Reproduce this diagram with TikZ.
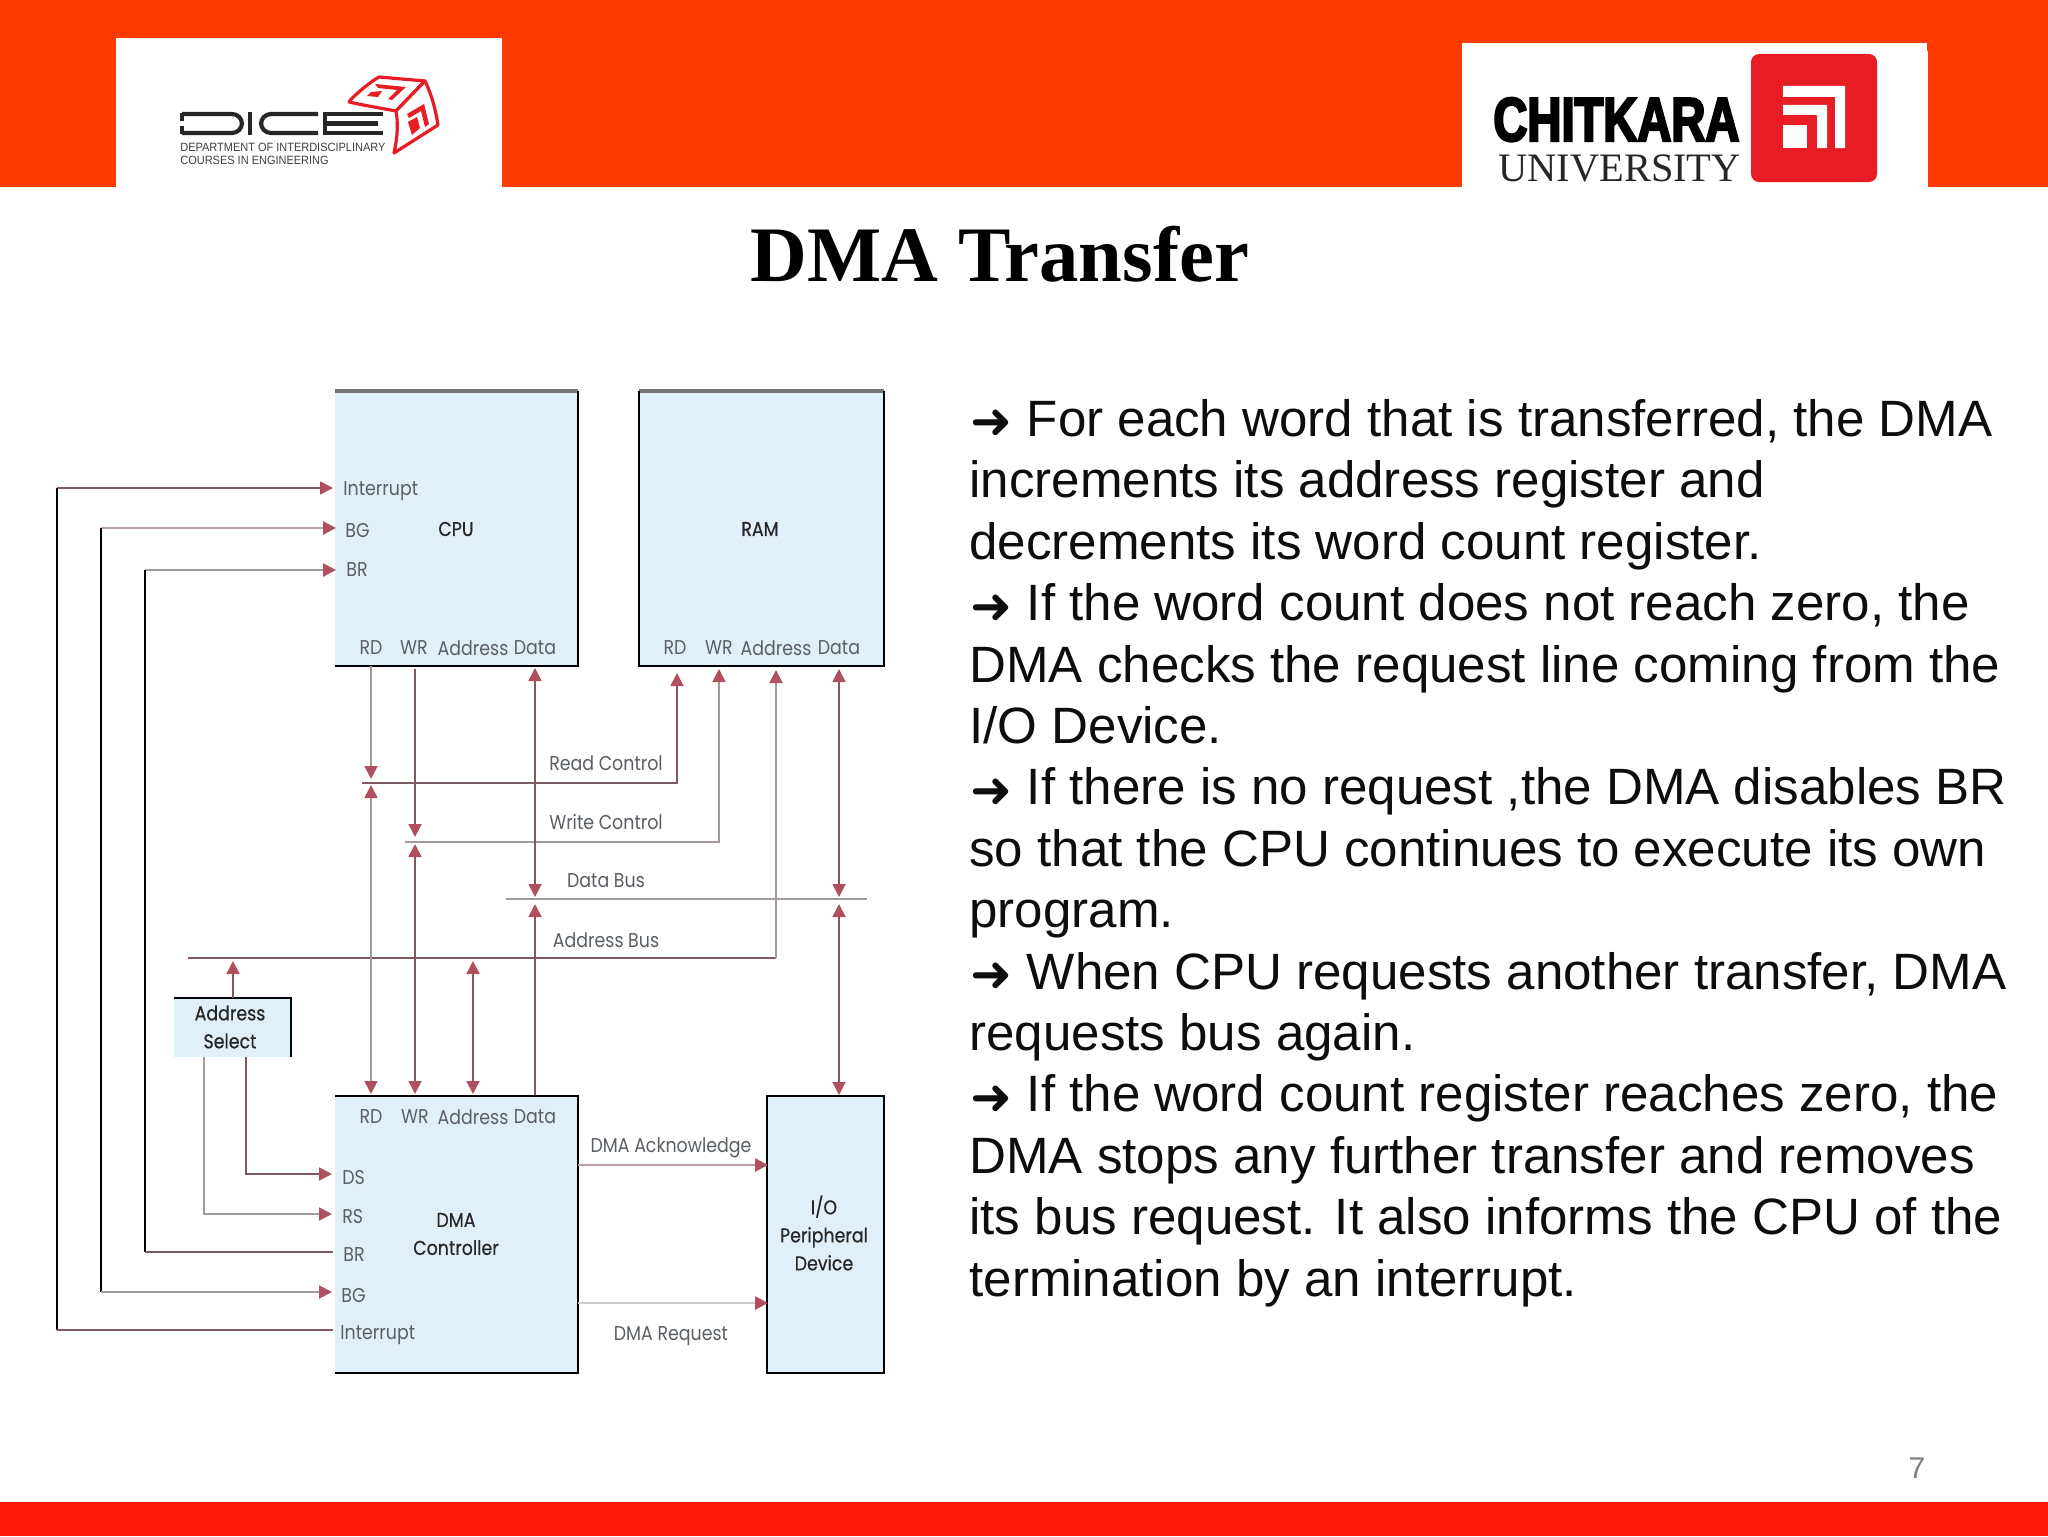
\documentclass[tikz,border=0pt]{standalone}
\usepackage{fontspec}
\setmainfont{Liberation Sans}
\newfontfamily\serifhead{Liberation Serif}
\newfontfamily\diafont[FakeStretch=0.87]{Poppins}
\newfontfamily\diatitlefont[FakeStretch=0.87,FakeBold=0.5]{Poppins}
\newfontfamily\symfont{DejaVu Sans}
\usetikzlibrary{arrows.meta}
\definecolor{banner}{HTML}{FF3A03}
\definecolor{footerred}{HTML}{FF1A0A}
\definecolor{logored}{HTML}{E81C25}
\definecolor{boxfill}{HTML}{E0F0FB}
\definecolor{wire}{HTML}{7F5A60}
\definecolor{greywire}{HTML}{A39A9C}
\definecolor{pinkwire}{HTML}{B9A2A5}
\definecolor{tipc}{HTML}{B0505F}
\definecolor{lab}{HTML}{5A5F64}
\newcommand{\bulletarrow}{\makebox[28.7pt][l]{\hspace{0.4pt}\raisebox{-1.2pt}{\symfont\fontsize{25}{30.7}\selectfont ➜}}}
\tikzset{
 x=0.5pt,y=-0.5pt,
 panel/.style={fill=boxfill,draw=none},
 edge/.style={draw=black,line width=1.2pt},
 wireline/.style={draw=wire,line width=0.9pt},
 greyline/.style={draw=greywire,line width=0.9pt},
 pinkline/.style={draw=pinkwire,line width=1.3pt},
 blackline/.style={draw=black,line width=0.9pt},
 headtip/.style={-{Triangle[length=6.5pt,width=6.5pt,color=tipc]}},
 bothtip/.style={{Triangle[length=6.5pt,width=6.5pt,color=tipc]}-{Triangle[length=6.5pt,width=6.5pt,color=tipc]}},
 dlabel/.style={inner sep=0pt,text=lab,font=\diafont\fontsize{10}{12}\selectfont},
 dtitle/.style={inner sep=0pt,text=black!85,align=center,font=\diatitlefont\fontsize{10}{14}\selectfont},
 cubeline/.style={draw=logored,line width=1.6pt,line join=round},
 dice/.style={draw=black!85,line width=2.1pt}
}
\begin{document}
\begin{tikzpicture}
\useasboundingbox (0,0) rectangle (2048,1536);
\fill[white] (0,0) rectangle (2048,1536);
% banner and footer
\fill[banner] (0,0) rectangle (2048,187);
\fill[footerred] (0,1502) rectangle (2048,1536);
\fill[white] (116,38) rectangle (502,187);
\fill[white] (1462,43) rectangle (1927,187);
\fill[white] (1927,51) rectangle (1928,187);
% DICE logo
\draw[dice,rounded corners=5pt] (182,114) -- (242,114) -- (242,133) -- (182,133);
\draw[dice] (182,113) -- (182,121) (182,126) -- (182,134);
\draw[dice] (250,112) -- (250,135);
\draw[dice,rounded corners=5pt] (318,114) -- (261,114) -- (261,133) -- (318,133);
\draw[dice] (383,114) -- (325,114) -- (325,133) -- (383,133) (325,123.5) -- (378,123.5);
\node[anchor=base west,inner sep=0pt,text=black!75] (dicea) at (180,151)
 {\addfontfeature{FakeStretch=0.915}\fontsize{6}{7}\selectfont DEPARTMENT OF INTERDISCIPLINARY};
\node[anchor=base west,inner sep=0pt,text=black!75] (diceb) at (180,164.5)
 {\addfontfeature{FakeStretch=0.915}\fontsize{6}{7}\selectfont COURSES IN ENGINEERING};
\draw[cubeline,fill=white] (349,102) .. controls (352,97) and (370,82) .. (379,77) -- (425,81) -- (396,111) .. controls (380,108) and (362,105) .. (349,102) -- cycle;
\draw[cubeline,fill=white] (396,111) -- (425,81) .. controls (432,95) and (436,112) .. (438,125) -- (394,153) .. controls (398,135) and (398,122) .. (396,111) -- cycle;
\fill[logored] (375,84) -- (406,87) -- (392,100) -- (388,99) -- (397,90) -- (378,88) -- cycle;
\fill[logored] (371,92) -- (382,91) -- (378,97) -- (367,96) -- cycle;
\fill[logored] (407,114) -- (424,104) -- (429,124) -- (425,127) -- (421,111) -- (409,118) -- cycle;
\fill[logored] (408,122) -- (417,117) -- (420,128) -- (412,135) -- cycle;
% Chitkara logo
\node[inner sep=0pt,anchor=base west,text depth=0pt] (chitkara) at (1493,141)
 {\special{pdf:literal direct 2 Tr 1.1 w}\fontsize{31}{33}\selectfont\bfseries\addfontfeature{FakeStretch=0.76}CHITKARA\special{pdf:literal direct 0 Tr}};
\node[inner sep=0pt,anchor=base west,text=black!85] (univ) at (1498,181)
 {\serifhead\fontsize{20.2}{24}\selectfont UNIVERSITY};
\fill[logored,rounded corners=4pt] (1751,54) rectangle (1877,182);
\fill[white] (1783,86) -- (1845,86) -- (1845,148) -- (1835,148) -- (1835,97) -- (1783,97) -- cycle;
\fill[white] (1783,105) -- (1827,105) -- (1827,148) -- (1817,148) -- (1817,115) -- (1783,115) -- cycle;
\fill[white] (1783,125) rectangle (1807,148);
% title
\node[inner sep=0pt,anchor=base] (title) at (1000,281)
 {\serifhead\bfseries\fontsize{39.3}{46}\selectfont DMA Transfer};
% boxes
\fill[panel] (335,390) rectangle (578,666);
\draw[draw=black!55,line width=2pt] (335,391) -- (578,391);
\draw[edge] (335,666) -- (578,666) -- (578,391);
\fill[panel] (639,390) rectangle (884,666);
\draw[draw=black!55,line width=2pt] (639,391) -- (884,391);
\draw[edge] (639,391) -- (639,666) -- (884,666) -- (884,391);
\fill[panel] (335,1096) rectangle (578,1373);
\draw[edge] (335,1096) -- (578,1096) -- (578,1373) -- (335,1373);
\fill[panel] (767,1096) rectangle (884,1373);
\draw[edge] (767,1373) -- (767,1096) -- (884,1096) -- (884,1373) -- cycle;
\fill[panel] (174,998) rectangle (291,1057);
\draw[edge] (174,998) -- (291,998) -- (291,1057);
% titles
\node[dtitle] (cpu) at (456,529) {CPU};
\node[dtitle] (ram) at (760,529) {RAM};
\node[dtitle] (dma) at (456,1234) {DMA\\Controller};
\node[dtitle] (io) at (824,1233) {I/O\\Peripheral\\Device};
\node[dtitle] (sel) at (230,1027) {Address\\Select};
% cpu labels
\node[dlabel,anchor=west] (c1) at (343,491) {Interrupt};
\node[dlabel,anchor=west] (c2) at (345,531) {BG};
\node[dlabel,anchor=west] (c3) at (346,570) {BR};
\node[dlabel] (c4) at (371,648) {RD};
\node[dlabel] (c5) at (414,648) {WR};
\node[dlabel] (c6) at (473,648) {Address};
\node[dlabel] (c7) at (535,648) {Data};
% ram labels
\node[dlabel] (r4) at (675,648) {RD};
\node[dlabel] (r5) at (719,648) {WR};
\node[dlabel] (r6) at (776,648) {Address};
\node[dlabel] (r7) at (839,648) {Data};
% dma labels
\node[dlabel] (d4) at (371,1117) {RD};
\node[dlabel] (d5) at (415,1117) {WR};
\node[dlabel] (d6) at (473,1117) {Address};
\node[dlabel] (d7) at (535,1117) {Data};
\node[dlabel,anchor=west] (d8) at (342,1177) {DS};
\node[dlabel,anchor=west] (d9) at (342,1216) {RS};
\node[dlabel,anchor=west] (d10) at (343,1255) {BR};
\node[dlabel,anchor=west] (d11) at (341,1295) {BG};
\node[dlabel,anchor=west] (d12) at (340,1335) {Interrupt};
% bus labels
\node[dlabel] (l1) at (606,763) {Read Control};
\node[dlabel] (l2) at (606,822) {Write Control};
\node[dlabel] (l3) at (606,881) {Data Bus};
\node[dlabel] (l4) at (606,940) {Address Bus};
\node[dlabel] (l5) at (671,1148) {DMA Acknowledge};
\node[dlabel] (l6) at (671,1336) {DMA Request};
% coordinates
\coordinate (intA) at (57,488); \coordinate (intB) at (57,1330);
\coordinate (bgA) at (101,528); \coordinate (bgB) at (101,1292);
\coordinate (brA) at (145,570); \coordinate (brB) at (145,1252);
% side wires
\draw[wireline,headtip] (intA) -- (333,488);
\draw[pinkline,headtip] (bgA) -- (336,528);
\draw[pinkline,draw=greywire,headtip] (brA) -- (336,570);
\draw[blackline] (intA) -- (intB);
\draw[blackline] (bgA) -- (bgB);
\draw[blackline] (brA) -- (brB);
\draw[wireline] (intB) -- (333,1330);
\draw[greyline,headtip] (bgB) -- (332,1292);
\draw[wireline] (brB) -- (333,1252);
\draw[wireline,headtip] (246,1057) -- (246,1174) -- (332,1174);
\draw[greyline,headtip] (204,1057) -- (204,1214) -- (332,1214);
% buses
\draw[wireline,headtip] (362,783) -- (677,783) -- (677,673);
\draw[greyline,headtip] (405,842) -- (719,842) -- (719,669);
\draw[greyline] (506,899) -- (867,899);
\draw[wireline] (188,958) -- (776,958);
\draw[greyline,headtip] (776,958) -- (776,670);
\draw[wireline,headtip] (233,998) -- (233,961);
% verticals
\draw[greyline,headtip] (371,666) -- (371,779);
\draw[greyline,bothtip] (371,785) -- (371,1094);
\draw[wireline,headtip] (415,669) -- (415,837);
\draw[wireline,bothtip] (415,844) -- (415,1094);
\draw[wireline,bothtip] (473,961) -- (473,1094);
\draw[wireline,bothtip] (535,668) -- (535,897);
\draw[wireline,headtip] (535,1095) -- (535,904);
\draw[wireline,bothtip] (839,669) -- (839,897);
\draw[wireline,bothtip] (839,904) -- (839,1095);
\draw[pinkline,headtip] (578,1165) -- (768,1165);
\draw[pinkline,draw=black!20,headtip] (578,1303) -- (768,1303);
% body text
\node[inner sep=0pt,anchor=north west,align=left,text=black!95,font=\fontsize{25.55}{30.7}\selectfont] (body) at (969,399)
 {\bulletarrow For each word that is transferred, the DMA\\
 increments its address register and\\
 decrements its word count register.\\
 \bulletarrow If the word count does not reach zero, the\\
 DMA checks the request line coming from the\\
 I/O Device.\\
 \bulletarrow If there is no request ,the DMA disables BR\\
 so that the CPU continues to execute its own\\
 program.\\
 \bulletarrow When CPU requests another transfer, DMA\\
 requests bus again.\\
 \bulletarrow If the word count register reaches zero, the\\
 DMA stops any further transfer and removes\\
 its bus request. It also informs the CPU of the\\
 termination by an interrupt.};
\node[inner sep=0pt,text=black!50] (page) at (1917,1468) {\fontsize{15}{18}\selectfont 7};
\end{tikzpicture}
\end{document}
